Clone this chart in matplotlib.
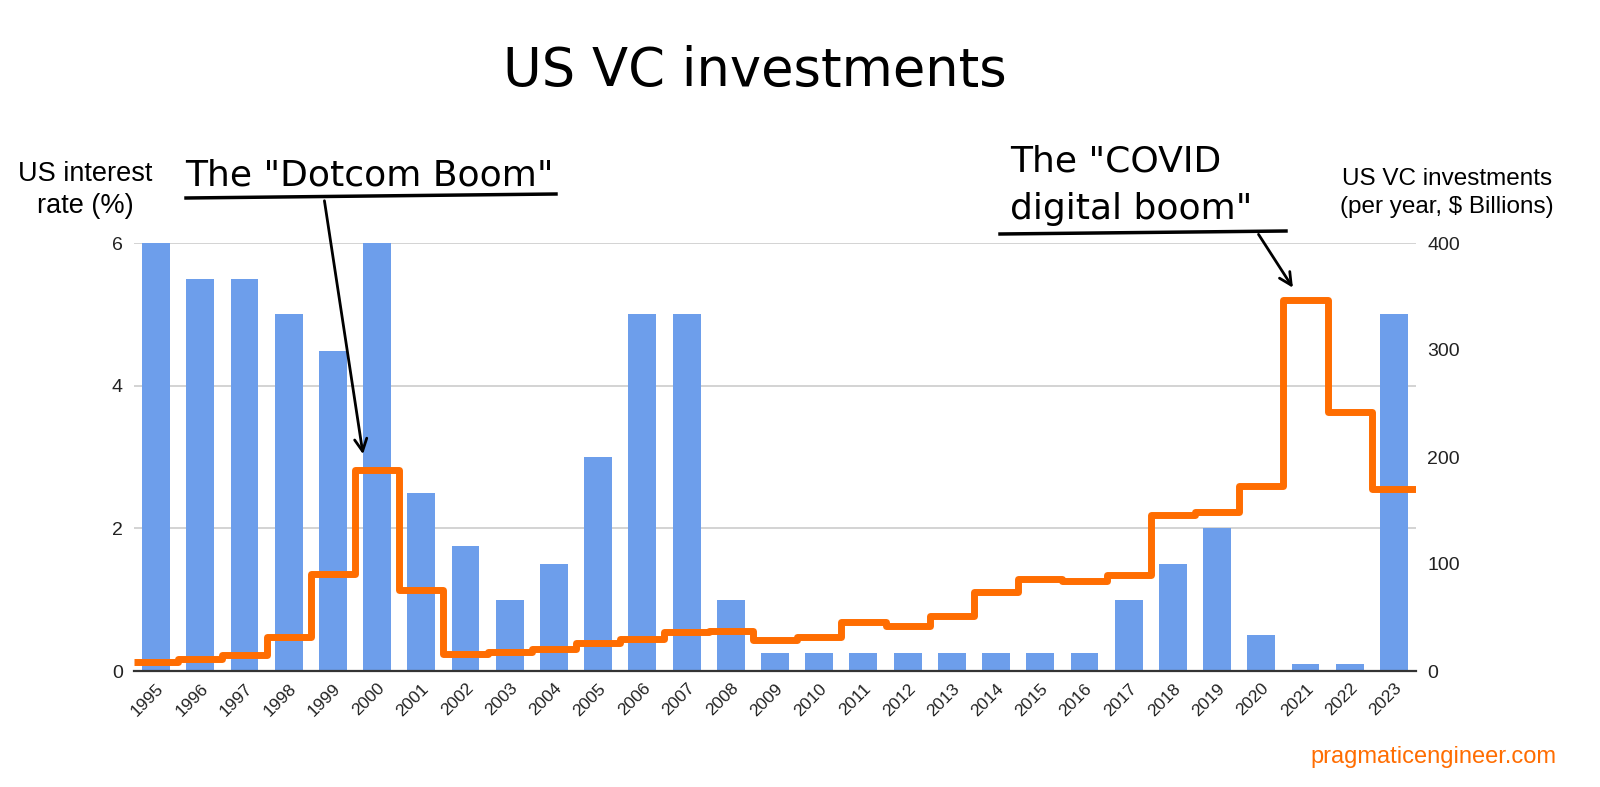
import numpy as np
import matplotlib
matplotlib.use("Agg")
import matplotlib.pyplot as plt

# data
years = [str(y) for y in range(1995, 2024)]
interest_rate = [6, 5.5, 5.5, 5, 4.48, 6, 2.5, 1.75, 1, 1.5, 3, 5, 5, 1,
                 0.25, 0.25, 0.25, 0.25, 0.25, 0.25, 0.25, 0.25,
                 1, 1.5, 2, 0.5, 0.1, 0.1, 5]
vc_billions = [8, 11, 15, 32, 91, 188, 76, 16, 18, 21, 26, 30, 36, 37,
               29, 32, 46, 42, 51, 74, 86, 84, 90, 146, 149, 173, 347, 242, 170]

W, H = 1600, 787
BLUE = "#6d9eeb"
ORANGE = "#ff6d01"
plt.rcParams['font.family'] = ['Liberation Sans', 'DejaVu Sans']

def fx(x):
    return x / W

def fy(y):
    return 1 - y / H

fig = plt.figure(figsize=(W / 100, H / 100), dpi=100)
ax = fig.add_axes([fx(134), fy(671), fx(1416 - 134), (671 - 243) / H])
ax2 = ax.twinx()

x = np.arange(len(years))
ax.bar(x, interest_rate, width=0.63, color=BLUE, zorder=2)
ax.set_xlim(-0.5, len(years) - 0.5)
ax.set_ylim(0, 6)
ax.set_yticks([0, 2, 4, 6])
ax.set_axisbelow(True)
ax.yaxis.grid(True, color="#cccccc", lw=1.2)
for s in ["top", "left", "right"]:
    ax.spines[s].set_visible(False)
ax.spines["bottom"].set_color("#333333")
ax.spines["bottom"].set_linewidth(1.6)
ax.spines["bottom"].set_zorder(5)
ax.tick_params(axis="both", length=0, labelsize=14, colors="#222222")
ax.tick_params(axis="y", pad=8)
ax.set_xticks(x)
ax.set_xticklabels(years, fontsize=12.5, rotation=45, ha="right",
                   rotation_mode="anchor")
ax.tick_params(axis="x", pad=7)

edges = np.arange(len(years) + 1) - 0.5
ax2.stairs(vc_billions, edges, baseline=None, color=ORANGE, lw=5,
           joinstyle="round", capstyle="butt", zorder=3)
ax2.set_ylim(0, 400)
ax2.set_yticks([0, 100, 200, 300, 400])
ax2.tick_params(axis="y", length=0, labelsize=14, pad=8, colors="#222222")
for s in ["top", "left", "right", "bottom"]:
    ax2.spines[s].set_visible(False)

# axis titles
fig.text(fx(85), fy(190), "US interest\nrate (%)", ha="center", va="center",
         fontsize=19.5, linespacing=1.3)
fig.text(fx(1447), fy(193), "US VC investments\n(per year, $ Billions)",
         ha="center", va="center", fontsize=17.5, linespacing=1.3)

# title and hand-drawn annotations
hand = ['DejaVu Sans']
fig.text(fx(755), fy(71), "US VC investments", ha="center", va="center",
         fontsize=38, family=hand)

fig.text(fx(369), fy(176), 'The "Dotcom Boom"', ha="center", va="center",
         fontsize=26, family=hand)
fig.add_artist(plt.Line2D([fx(186), fx(556)], [fy(198), fy(194)],
                          color="black", lw=2.5))
ax2.annotate("", xy=(4.69, 200), xycoords="data",
             xytext=(324, H - 198), textcoords="figure pixels",
             arrowprops=dict(arrowstyle="->", color="black", lw=2,
                             mutation_scale=22))

fig.text(fx(1010), fy(161), 'The "COVID', ha="left", va="center",
         fontsize=26, family=hand)
fig.text(fx(1010), fy(209), 'digital boom"', ha="left", va="center",
         fontsize=26, family=hand)
fig.add_artist(plt.Line2D([fx(1000), fx(1286)], [fy(234), fy(231)],
                          color="black", lw=2.5))
ax2.annotate("", xy=(25.75, 356), xycoords="data",
             xytext=(1257, H - 232), textcoords="figure pixels",
             arrowprops=dict(arrowstyle="->", color="black", lw=2,
                             mutation_scale=22))

fig.text(fx(1556), fy(757), "pragmaticengineer.com", ha="right", va="center",
         fontsize=17, color=ORANGE)

fig.savefig("out.png", dpi=100)
